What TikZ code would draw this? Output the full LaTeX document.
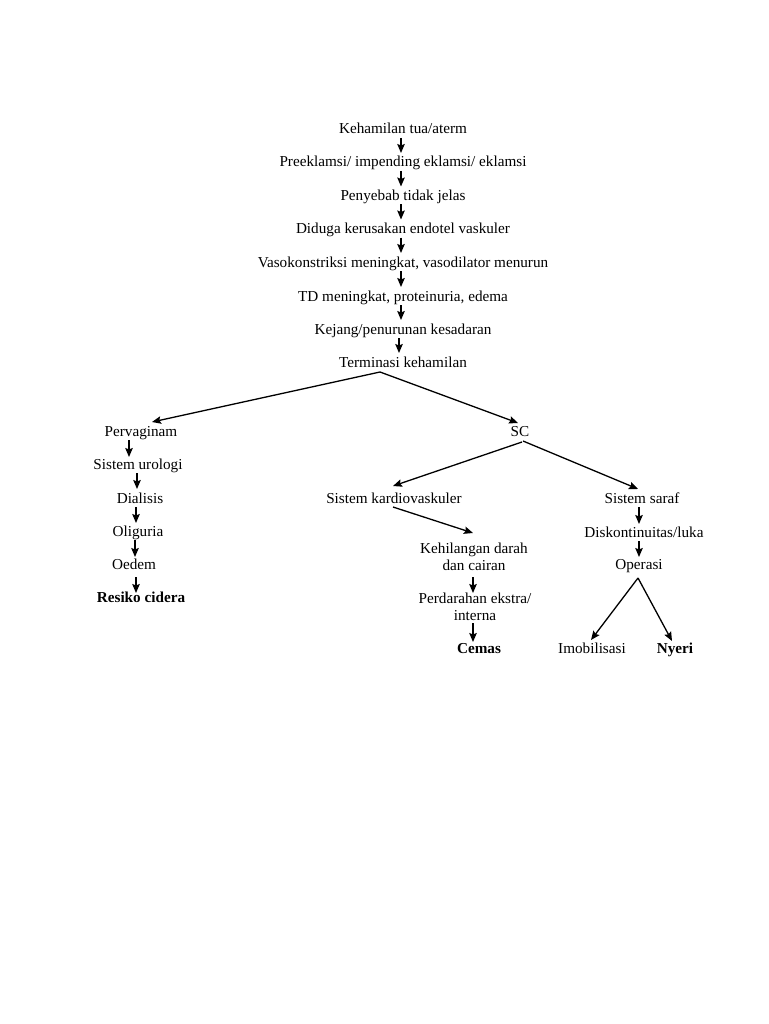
\documentclass[tikz,border=0pt]{standalone}
\usepackage{fontspec}
\setmainfont{Liberation Serif}
\usetikzlibrary{arrows.meta}
\begin{document}
\begin{tikzpicture}[x=1pt,y=-1pt,
  lbl/.style={anchor=base,inner sep=0pt,font=\fontsize{15.2}{17}\selectfont},
  bold/.style={lbl,font=\fontsize{15.2}{17}\selectfont\bfseries},
  two/.style={lbl,align=center},
  arr/.style={line width=1.3pt,-{Stealth[length=9pt,width=7.5pt,inset=1.5pt]}}]
\fill[white] (0,0) rectangle (768,1024);
\useasboundingbox (0,0) rectangle (768,1024);
% main column
\node[lbl] (k1) at (403,134) {Kehamilan tua/aterm};
\node[lbl] (k2) at (403,167) {Preeklamsi/ impending eklamsi/ eklamsi};
\node[lbl] (k3) at (403,200.5) {Penyebab tidak jelas};
\node[lbl] (k4) at (403,233.5) {Diduga kerusakan endotel vaskuler};
\node[lbl] (k5) at (403,267) {Vasokonstriksi meningkat, vasodilator menurun};
\node[lbl] (k6) at (403,301) {TD meningkat, proteinuria, edema};
\node[lbl] (k7) at (403,334) {Kejang/penurunan kesadaran};
\node[lbl] (k8) at (403,367) {Terminasi kehamilan};
% left branch
\node[lbl] (perv) at (141,436) {Pervaginam};
\node[lbl] (uro) at (138,469) {Sistem urologi};
\node[lbl] (dial) at (140,503) {Dialisis};
\node[lbl] (olig) at (138,536) {Oliguria};
\node[lbl] (oedem) at (134,569) {Oedem};
\node[bold] (resiko) at (141,602) {Resiko cidera};
% SC branch
\node[lbl] (sc) at (520,436) {SC};
\node[lbl] (kardio) at (394,503) {Sistem kardiovaskuler};
\node[two] (kehil) at (474,570) {Kehilangan darah\\dan cairan};
\node[two] (perd) at (475,620) {Perdarahan ekstra/\\interna};
\node[bold] (cemas) at (479,653) {Cemas};
\node[lbl] (saraf) at (642,503) {Sistem saraf};
\node[lbl] (disk) at (644,537) {Diskontinuitas/luka};
\node[lbl] (oper) at (639,569) {Operasi};
\node[lbl] (imob) at (592,653) {Imobilisasi};
\node[bold] (nyeri) at (675,653) {Nyeri};
% vertical arrows main column
\draw[arr] ([shift={(-2,4)}]k1.base) -- ([shift={(-2,-14)}]k2.base);
\draw[arr] ([shift={(-2,4)}]k2.base) -- ([shift={(-2,-14)}]k3.base);
\draw[arr] ([shift={(-2,4)}]k3.base) -- ([shift={(-2,-14)}]k4.base);
\draw[arr] ([shift={(-2,4)}]k4.base) -- ([shift={(-2,-14)}]k5.base);
\draw[arr] ([shift={(-2,4)}]k5.base) -- ([shift={(-2,-14)}]k6.base);
\draw[arr] ([shift={(-2,4)}]k6.base) -- ([shift={(-2,-14)}]k7.base);
\draw[arr] ([shift={(-4,4)}]k7.base) -- ([shift={(-4,-14)}]k8.base);
% branches from Terminasi
\draw[arr] ([shift={(-23,5)}]k8.base) -- ([shift={(11,-14)}]perv.base);
\draw[arr] ([shift={(-23,5)}]k8.base) -- ([shift={(-2,-13)}]sc.base);
% left column
\draw[arr] ([shift={(-12,4)}]perv.base) -- ([shift={(-9,-12)}]uro.base);
\draw[arr] ([shift={(-1,4)}]uro.base) -- ([shift={(-3,-14)}]dial.base);
\draw[arr] ([shift={(-4,4)}]dial.base) -- ([shift={(-2,-13)}]olig.base);
\draw[arr] ([shift={(-3,4)}]olig.base) -- ([shift={(1,-12)}]oedem.base);
\draw[arr] ([shift={(2,8)}]oedem.base) -- ([shift={(-5,-9)}]resiko.base);
% SC branches
\draw[arr] ([shift={(2,6)}]sc.base) -- ([shift={(-1,-17)}]kardio.base);
\draw[arr] ([shift={(3,5)}]sc.base) -- ([shift={(-4,-14)}]saraf.base);
\draw[arr] ([shift={(-1,4)}]kardio.base) -- ([shift={(-1,-37)}]kehil.base);
\draw[arr] ([shift={(-1,7)}]kehil.base) -- ([shift={(-2,-27)}]perd.base);
\draw[arr] ([shift={(-2,3)}]perd.base) -- ([shift={(-6,-11)}]cemas.base);
\draw[arr] ([shift={(-3,4)}]saraf.base) -- ([shift={(-5,-13)}]disk.base);
\draw[arr] ([shift={(-5,4)}]disk.base) -- ([shift={(0,-12)}]oper.base);
\draw[arr] ([shift={(-1,9)}]oper.base) -- ([shift={(-1,-13)}]imob.base);
\draw[arr] ([shift={(-1,9)}]oper.base) -- ([shift={(-3,-12)}]nyeri.base);
\end{tikzpicture}
\end{document}
